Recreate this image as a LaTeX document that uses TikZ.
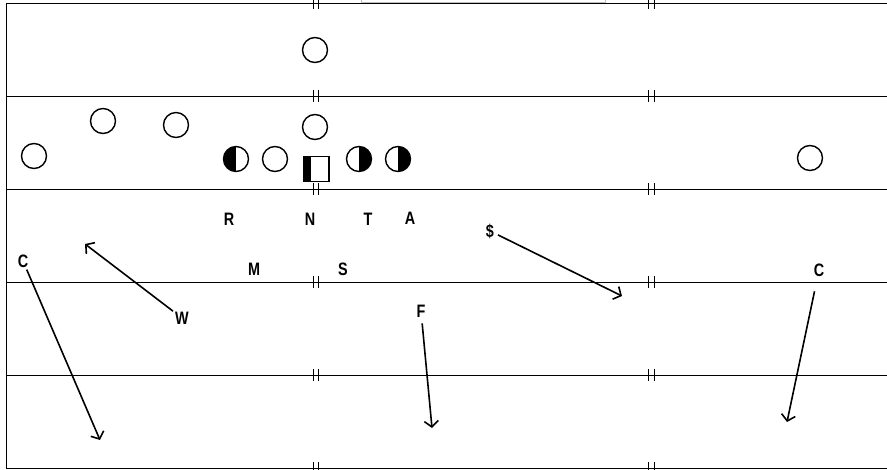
\documentclass[tikz,border=0pt]{standalone}
\usepackage{fontspec}
\setmainfont{Liberation Sans}
\newfontfamily\markfont[FakeStretch=0.8]{Liberation Sans}
\usetikzlibrary{arrows.meta}

\begin{document}
\begin{tikzpicture}[x=1pt,y=-1pt,
  player/.style={circle,draw,line width=1.4pt,minimum size=25pt,inner sep=0pt},
  lefthalf/.style={player,path picture={\fill (path picture bounding box.north) rectangle (path picture bounding box.south west);}},
  righthalf/.style={player,path picture={\fill (path picture bounding box.north) rectangle (path picture bounding box.south east);}},
  snapbox/.style={rectangle,draw,line width=1.2pt,minimum size=25pt,inner sep=0pt,
    path picture={\fill (path picture bounding box.north west) rectangle ([xshift=7pt]path picture bounding box.south west);}},
  defender/.style={font=\markfont\bfseries\fontsize{18}{18}\selectfont,inner sep=2pt},
  route/.style={line width=1.6pt,-{Straight Barb[length=6pt,width=14pt]}}]
  \useasboundingbox (0,0) rectangle (887,469);
  \draw[gray!50] (361,-1) rectangle (605,2);
  \draw[line width=1pt] (6,3) -- (6,468);
  \foreach \y in {3,96,...,468} {
    \draw[line width=1pt] (6,\y) -- (887,\y);
    \foreach \x in {313,318,648,654}
      \draw[line width=1pt] (\x,\y-6) -- (\x,\y+6);
  }

  \node[player] (deep) at (315,50) {};
  \node[player] (back) at (315,127) {};
  \node[player] (wideL) at (34,156) {};
  \node[player] (slotL) at (103,121) {};
  \node[player] (slotR) at (176,125) {};
  \node[lefthalf] (lt) at (236,159) {};
  \node[player] (lg) at (275,159) {};
  \node[snapbox] (ctr) at (316.5,169) {};
  \node[righthalf] (rg) at (359,159) {};
  \node[righthalf] (rt) at (398,159) {};
  \node[player] (wideR) at (810,158) {};

  \node[defender] (R) at (229,219) {R};
  \node[defender] (N) at (310,219) {N};
  \node[defender] (T) at (368,219) {T};
  \node[defender] (A) at (410,218) {A};
  \node[defender] (M) at (254,269) {M};
  \node[defender] (S) at (343,269) {S};
  \node[defender] (C1) at (23,261) {C};
  \node[defender] (W) at (182,318) {W};
  \node[defender] (F) at (421,311) {F};
  \node[defender] (dollar) at (490,231) {\$};
  \node[defender] (C2) at (819,270) {C};

  \coordinate (c1end) at (100,440);
  \coordinate (wend) at (85,244);
  \coordinate (fend) at (432,428);
  \coordinate (dend) at (622,296);
  \coordinate (c2end) at (787,422);
  \draw[route] (C1) -- (c1end);
  \draw[route] (W) -- (wend);
  \draw[route,shorten <=4pt] (F) -- (fend);
  \draw[route,shorten <=2pt] (dollar) -- (dend);
  \draw[route,shorten <=13pt] (C2) -- (c2end);
\end{tikzpicture}
\end{document}
